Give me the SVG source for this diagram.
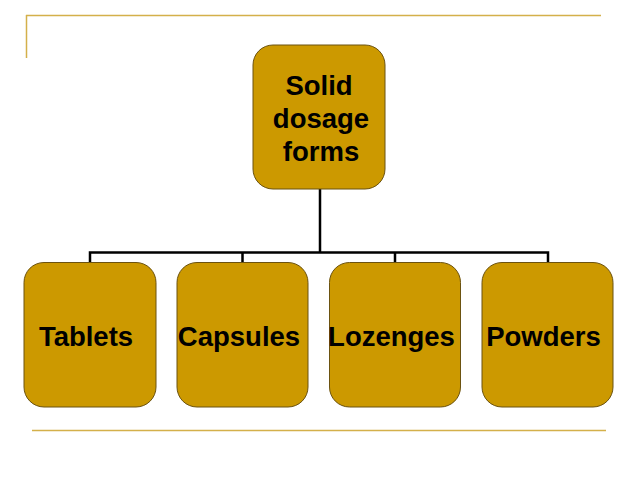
<svg xmlns="http://www.w3.org/2000/svg" width="638" height="478" viewBox="0 0 638 478">
<style>
.box{fill:#CC9900;stroke:#6B5210;stroke-width:1}
.lbl{font-family:"Liberation Sans",Arial,sans-serif;font-weight:bold;font-size:27.5px;fill:#000;text-anchor:middle}
.deco{stroke:#D4B04A;stroke-width:1.5;fill:none}
.conn{stroke:#000;stroke-width:2.5;fill:none}
</style>
<rect width="638" height="478" fill="#fff"/>
<g id="decor">
<path class="deco" d="M26 15.5H601M26.5 15V58"/>
<path class="deco" d="M32 430.5H606"/>
</g>
<g id="connectors">
<path class="conn" d="M320 189V252.5M90 262.5V252.5H548V262.5M242.5 252.5V262.5M395 252.5V262.5"/>
</g>
<g id="root">
<rect class="box" x="253" y="45" width="132" height="144" rx="20"/>
<text class="lbl" x="319" y="95">Solid</text>
<text class="lbl" x="321" y="128">dosage</text>
<text class="lbl" x="321" y="161">forms</text>
</g>
<g id="tablets">
<rect class="box" x="24" y="262.5" width="132" height="144.5" rx="20"/>
<text class="lbl" x="86" y="346">Tablets</text>
</g>
<g id="capsules">
<rect class="box" x="177" y="262.5" width="131" height="144.5" rx="20"/>
<text class="lbl" x="239" y="346">Capsules</text>
</g>
<g id="lozenges">
<rect class="box" x="329.5" y="262.5" width="131" height="144.5" rx="20"/>
<text class="lbl" x="391.5" y="346">Lozenges</text>
</g>
<g id="powders">
<rect class="box" x="482" y="262.5" width="131" height="144.5" rx="20"/>
<text class="lbl" x="543.5" y="346">Powders</text>
</g>
</svg>
